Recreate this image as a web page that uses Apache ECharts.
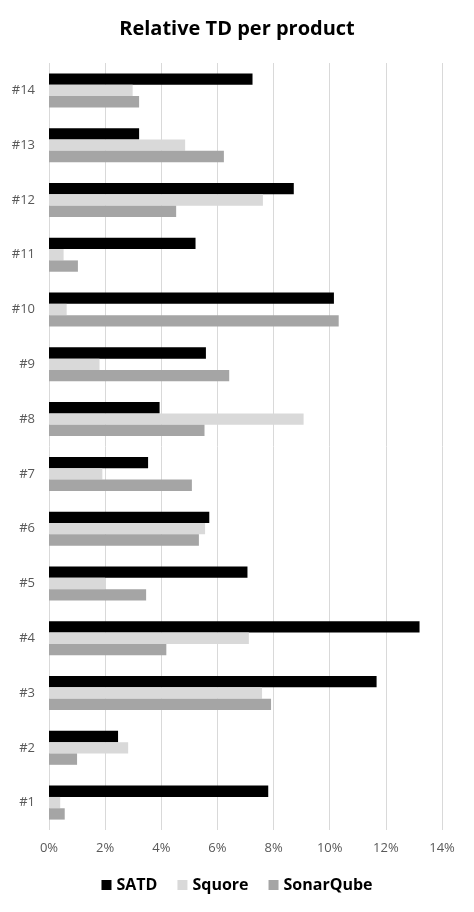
<!DOCTYPE html>
<html>
<head>
<meta charset="utf-8">
<script src="https://cdn.jsdelivr.net/npm/echarts@6/dist/echarts.min.js"></script>
<style>
  html, body { margin: 0; padding: 0; background: #fff; }
  #chart { width: 474px; height: 912px; }
</style>
</head>
<body>
<div id="chart"></div>
<script>
// products, bottom to top
var products = ['#1', '#2', '#3', '#4', '#5', '#6', '#7', '#8', '#9', '#10', '#11', '#12', '#13', '#14'];
// relative TD in %
var satd      = [7.81, 2.46, 11.67, 13.20, 7.07, 5.71, 3.53, 3.94, 5.59, 10.15, 5.22, 8.72, 3.21, 7.25];
var squore    = [0.40, 2.82, 7.59, 7.12, 2.00, 5.56, 1.90, 9.07, 1.80, 0.63, 0.52, 7.62, 4.85, 2.98];
var sonarqube = [0.56, 1.00, 7.91, 4.18, 3.46, 5.34, 5.09, 5.54, 6.42, 10.32, 1.03, 4.53, 6.23, 3.21];
var xTicks = [0, 2, 4, 6, 8, 10, 12, 14];

var font = '"Open Sans", "Liberation Sans", sans-serif';
var myChart = echarts.init(document.getElementById('chart'));

var option = {
    animation: false,
    title: {
        text: 'Relative TD per product',
        left: 'center',
        top: 14,
        textStyle: { fontFamily: font, fontSize: 20, fontWeight: 'bold', color: '#000' }
    },
    legend: {
        data: ['SATD', 'Squore', 'SonarQube'],
        bottom: 14,
        left: 'center',
        itemWidth: 10,
        itemHeight: 10,
        itemGap: 20,
        icon: 'rect',
        textStyle: { fontFamily: font, fontSize: 16, fontWeight: 'bold', color: '#000' }
    },
    grid: { left: 49, right: 32, top: 63, bottom: 82, containLabel: false },
    xAxis: {
        type: 'value',
        min: xTicks[0],
        max: xTicks[xTicks.length - 1],
        interval: 2,
        axisLine: { show: false },
        axisTick: { show: false },
        axisLabel: {
            margin: 12,
            color: '#595959',
            fontFamily: font,
            fontSize: 13,
            formatter: function (v) { return v + '%'; }
        },
        splitLine: { lineStyle: { color: '#d9d9d9', width: 1 } }
    },
    yAxis: {
        type: 'category',
        data: products,
        axisLine: { show: false },
        axisTick: { show: false },
        axisLabel: { margin: 14, color: '#595959', fontFamily: font, fontSize: 13 }
    },
    series: [
        { name: 'SATD', type: 'bar', data: satd, barGap: '0%', barCategoryGap: '38%',
          itemStyle: { color: '#000000' } },
        { name: 'Squore', type: 'bar', data: squore, barGap: '0%', barCategoryGap: '38%',
          itemStyle: { color: '#d9d9d9' } },
        { name: 'SonarQube', type: 'bar', data: sonarqube, barGap: '0%', barCategoryGap: '38%',
          itemStyle: { color: '#a5a5a5' } }
    ]
};

myChart.setOption(option);
</script>
</body>
</html>
